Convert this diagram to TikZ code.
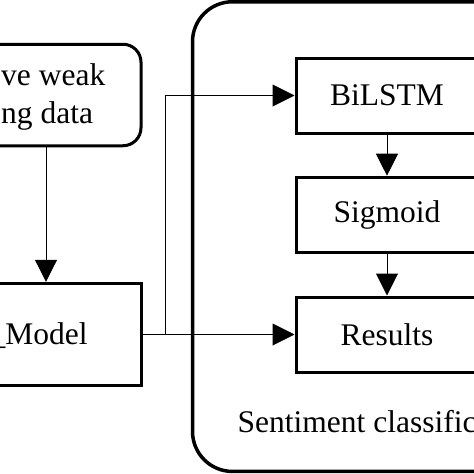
\documentclass[tikz,border=0pt]{standalone}
\usepackage{fontspec}
\setmainfont{Liberation Serif}
\usetikzlibrary{arrows.meta}

\begin{document}
\begin{tikzpicture}[x=1pt, y=-1pt,
        font=\fontsize{31.5}{38}\selectfont,
        frame/.style={draw, line width=3.5pt, rounded corners=40pt, minimum width=447pt, minimum height=469.7pt, inner sep=0pt},
        inbox/.style={draw, line width=3pt, minimum width=190pt, minimum height=101.5pt, inner sep=0pt},
        box/.style={draw, line width=3pt, minimum width=182pt, minimum height=75pt, inner sep=0pt},
        txt/.style={inner sep=0pt, anchor=base west},
        link/.style={line width=1pt, -{Triangle[length=22pt, width=22pt]}}]
        \useasboundingbox (0,0) rectangle (474,474);
        \clip (0,0) rectangle (474,474);
        % Nodes
        \node[frame] (cls) at (416,236.6) {};
        \node[inbox, rounded corners=18pt] (weak) at (46,95) {};
        \node[inbox, minimum height=102.4pt] (model) at (46,334.5) {};
        \node[box] (bilstm) at (387,95.5) {BiLSTM};
        \node[box] (sigmoid) at (387,214.7) {Sigmoid};
        \node[box] (results) at (387,334.5) {Results};
        \node[txt] (weakA) at (1,85) {ve weak};
        \node[txt] (weakB) at (1,123) {ng data};
        \node[txt] (modeltxt) at (-10.5,344) {\_Model};
        \node[txt] (clstxt) at (237.5,432) {Sentiment classific};
        \coordinate (split) at (165,334.5);
        % Edges
        \draw[link] (weak) -- (model);
        \draw[link] (model) -- (results);
        \draw[link] (split) |- (bilstm);
        \draw[link] (bilstm) -- (sigmoid);
        \draw[link] (sigmoid) -- (results);
    \end{tikzpicture}
\end{document}
